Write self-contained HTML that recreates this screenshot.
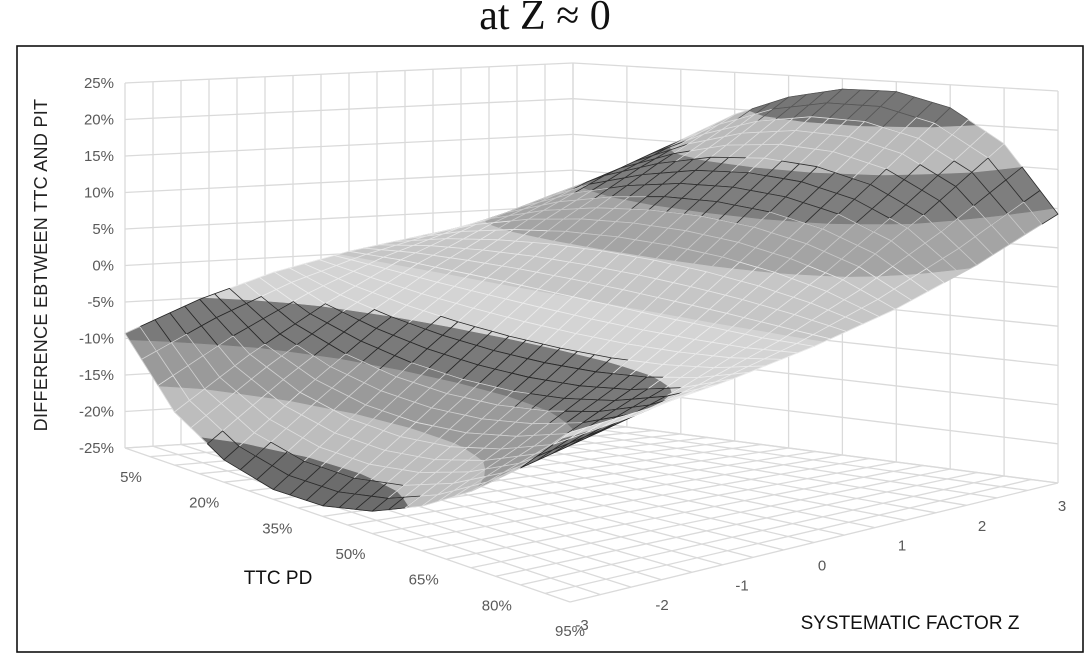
<!DOCTYPE html>
<html><head><meta charset="utf-8">
<style>
html,body{margin:0;padding:0;background:#fff;}
svg{display:block;}
text{font-family:"Liberation Sans",sans-serif;}
</style></head>
<body>
<svg id="chart" width="1087" height="661" viewBox="0 0 1087 661" xmlns="http://www.w3.org/2000/svg">
  <text x="545" y="29" text-anchor="middle" style="font-family:'Liberation Serif',serif;font-size:42px;fill:#111">at Z ≈ 0</text>
  <rect x="17" y="46" width="1066" height="606" fill="#fff" stroke="#111" stroke-width="1.6"/>
  <g id="walls"></g>
  <g id="surface"></g>
  <g id="labels"></g>
  <text transform="translate(47,265) rotate(-90)" text-anchor="middle" style="font-size:18px;fill:#222;letter-spacing:0.3px">DIFFERENCE EBTWEEN TTC AND PIT</text>
  <text x="278" y="584" text-anchor="middle" style="font-size:19px;fill:#111">TTC PD</text>
  <text x="910" y="629" text-anchor="middle" style="font-size:19px;fill:#111">SYSTEMATIC FACTOR Z</text>
</svg>
<script>
const pdCats = [5,15,25,35,45,55,65,75,85,95];
const zCats = [-3,-2,-1,0,1,2,3];
const diff05 = [-9.3,-5.2,-2.0,0.3,2.0,3.2,3.9];
const diff15 = [-17.8,-10.8,-4.7,0.5,4.6,7.9,10.3];
const diff25 = [-22.0,-14.0,-6.4,0.4,6.4,11.4,15.3];
const diff35 = [-23.7,-15.6,-7.5,0.3,7.5,13.8,19.3];
const diff45 = [-23.6,-16.0,-8.0,0.1,8.0,15.4,22.1];
const diff55 = [-22.1,-15.4,-8.0,-0.1,8.0,16.0,23.6];
const diff65 = [-19.3,-13.8,-7.5,-0.3,7.5,15.6,23.7];
const diff75 = [-15.3,-11.4,-6.4,-0.4,6.4,14.0,22.0];
const diff85 = [-10.3,-7.9,-4.6,-0.5,4.7,10.8,17.8];
const diff95 = [-3.9,-3.2,-2.0,-0.3,2.0,5.2,9.3];
const diffRows = [diff05,diff15,diff25,diff35,diff45,diff55,diff65,diff75,diff85,diff95];
const yTickLabels = ['-25%','-20%','-15%','-10%','-5%','0%','5%','10%','15%','20%','25%'];
const pdTickLabels = ['5%','20%','35%','50%','65%','80%','95%'];
const zTickLabels = ['-3','-2','-1','0','1','2','3'];

const NS='http://www.w3.org/2000/svg';
const FL={A:[125,448],B:[570,602],C:[1058,483],D:[573,420]};
const TP={A:[125,83],B:[570,200],C:[1058,91],D:[573,63]};
function bil(P,u,w){
  return [(1-u)*(1-w)*P.A[0]+u*(1-w)*P.B[0]+u*w*P.C[0]+(1-u)*w*P.D[0],
          (1-u)*(1-w)*P.A[1]+u*(1-w)*P.B[1]+u*w*P.C[1]+(1-u)*w*P.D[1]];
}
const pdMin=5,pdMax=95,zMin=-3,zMax=3,vMin=-25,vMax=25;
function uScale(pd){return (pd-pdMin)/(pdMax-pdMin);}
function wScale(z){return (z-zMin)/(zMax-zMin);}
function hScale(v){return (v-vMin)/(vMax-vMin);}
function proj(u,w,h){
  const f=bil(FL,u,w), t=bil(TP,u,w);
  return [f[0]+h*(t[0]-f[0]), f[1]+h*(t[1]-f[1])];
}
function mk(tag,attrs,parent){
  const e=document.createElementNS(NS,tag);
  for(const k in attrs)e.setAttribute(k,attrs[k]);
  parent.appendChild(e);return e;
}
const walls=document.getElementById('walls');
function line(p,q,name){
  const l=mk('line',{x1:p[0].toFixed(1),y1:p[1].toFixed(1),x2:q[0].toFixed(1),y2:q[1].toFixed(1),stroke:'#dadada','stroke-width':1.3},walls);
  
  
}
for(let k=0;k<=16;k++){const w=k/16;line(proj(0,w,0),proj(0,w,1),'left-wall-gridline');}
for(let k=0;k<yTickLabels.length;k++){const h=k/10;line(proj(0,0,h),proj(0,1,h),'left-wall-gridline');}
for(let k=0;k<=9;k++){const u=k/9;line(proj(u,1,0),proj(u,1,1),'back-wall-gridline');}
for(let k=0;k<yTickLabels.length;k++){const h=k/10;line(proj(0,1,h),proj(1,1,h),'back-wall-gridline');}
for(let k=0;k<=18;k++){const u=k/18;line(proj(u,0,0),proj(u,1,0),'floor-gridline');}
for(let k=0;k<=16;k++){const w=k/16;line(proj(0,w,0),proj(1,w,0),'floor-gridline');}

const surf=document.getElementById('surface');
const bandFill=['#6c6c6c','#bdbdbd','#9a9a9a','#7a7a7a','#d4d4d4','#c6c6c6','#a4a4a4','#7e7e7e','#bababa','#767676'];
const bandMesh=['#2a2a2a','#dedede','#cfcfcf','#262626','#ececec','#e6e6e6','#c8c8c8','#2e2e2e','#dcdcdc','#555555'];
function valAt(fi,fj){
  const i0=Math.min(Math.floor(fi),pdCats.length-2), j0=Math.min(Math.floor(fj),zCats.length-2);
  const a=fi-i0,b=fj-j0;
  const r0=diffRows[i0], r1=diffRows[i0+1];
  return (1-a)*(1-b)*r0[j0]+a*(1-b)*r1[j0]+a*b*r1[j0+1]+(1-a)*b*r0[j0+1];
}
function pdAt(fi){const i0=Math.min(Math.floor(fi),pdCats.length-2);const a=fi-i0;return pdCats[i0]+a*(pdCats[i0+1]-pdCats[i0]);}
function zAt(fj){const j0=Math.min(Math.floor(fj),zCats.length-2);const a=fj-j0;return zCats[j0]+a*(zCats[j0+1]-zCats[j0]);}
function clip(poly,t,keepAbove){
  const out=[];
  for(let k=0;k<poly.length;k++){
    const a=poly[k], b=poly[(k+1)%poly.length];
    const ina=keepAbove?a.v>=t:a.v<=t, inb=keepAbove?b.v>=t:b.v<=t;
    if(ina)out.push(a);
    if(ina!==inb){
      const s=(t-a.v)/(b.v-a.v);
      out.push({x:a.x+s*(b.x-a.x),y:a.y+s*(b.y-a.y),v:t});
    }
  }
  return out;
}
const SU=3,SW=5;
const NI=(pdCats.length-1)*SU, NJ=(zCats.length-1)*SW;
const cells=[];
for(let i=0;i<NI;i++)for(let j=0;j<NJ;j++){
  const corners=[[i,j],[i+1,j],[i+1,j+1],[i,j+1]].map(([a,b])=>{
    const fi=a/SU,fj=b/SW;const v=valAt(fi,fj);
    const p=proj(uScale(pdAt(fi)),wScale(zAt(fj)),hScale(v));
    return {x:p[0],y:p[1],v:v,u:uScale(pdAt(fi)),w:wScale(zAt(fj))};
  });
  const vm=(corners[0].v+corners[1].v+corners[2].v+corners[3].v)/4;
  const uc=(corners[0].u+corners[2].u)/2, wc=(corners[0].w+corners[2].w)/2;
  cells.push({corners,vm,key:(1-uc)+wc});
}
cells.sort((a,b)=>b.key-a.key);
function ptsStr(poly){return poly.map(k=>k.x.toFixed(1)+','+k.y.toFixed(1)).join(' ');}
for(const c of cells){
  for(let band=0;band<10;band++){
    const lo=band===0?-1e9:vMin+band*5, hi=band===9?1e9:vMin+(band+1)*5;
    let poly=clip(c.corners,lo,true);
    if(poly.length<3)continue;
    poly=clip(poly,hi,false);
    if(poly.length<3)continue;
    const piece=mk('polygon',{points:ptsStr(poly),fill:bandFill[band],stroke:bandFill[band],'stroke-width':0.6},surf);
    
    
  }
  let band=Math.floor((c.vm-vMin)/5);band=Math.max(0,Math.min(9,band));
  const mesh=mk('polygon',{points:ptsStr(c.corners),fill:'none',stroke:bandMesh[band],'stroke-width':0.8,'stroke-linejoin':'round'},surf);
  
  
}

const labels=document.getElementById('labels');
function txt(x,y,s,anchor,name){
  const t=mk('text',{x:x.toFixed(1),y:y.toFixed(1),'text-anchor':anchor,style:'font-size:15px;fill:#595959'},labels);
  t.textContent=s;
  
  
}
yTickLabels.forEach((s,k)=>{const p=proj(0,0,k/10);txt(p[0]-11,p[1]+5,s,'end','y-tick-label');});
pdTickLabels.forEach((s,k)=>{const u=k/(pdTickLabels.length-1);const p=proj(u,0,0);txt(p[0]+6-6*u,p[1]+34,s,'middle','pd-tick-label');});
zTickLabels.forEach((s,k)=>{const w=k/(zTickLabels.length-1);const p=proj(1,w,0);txt(p[0]+12-8*w,p[1]+28,s,'middle','z-tick-label');});
</script>
</body></html>
